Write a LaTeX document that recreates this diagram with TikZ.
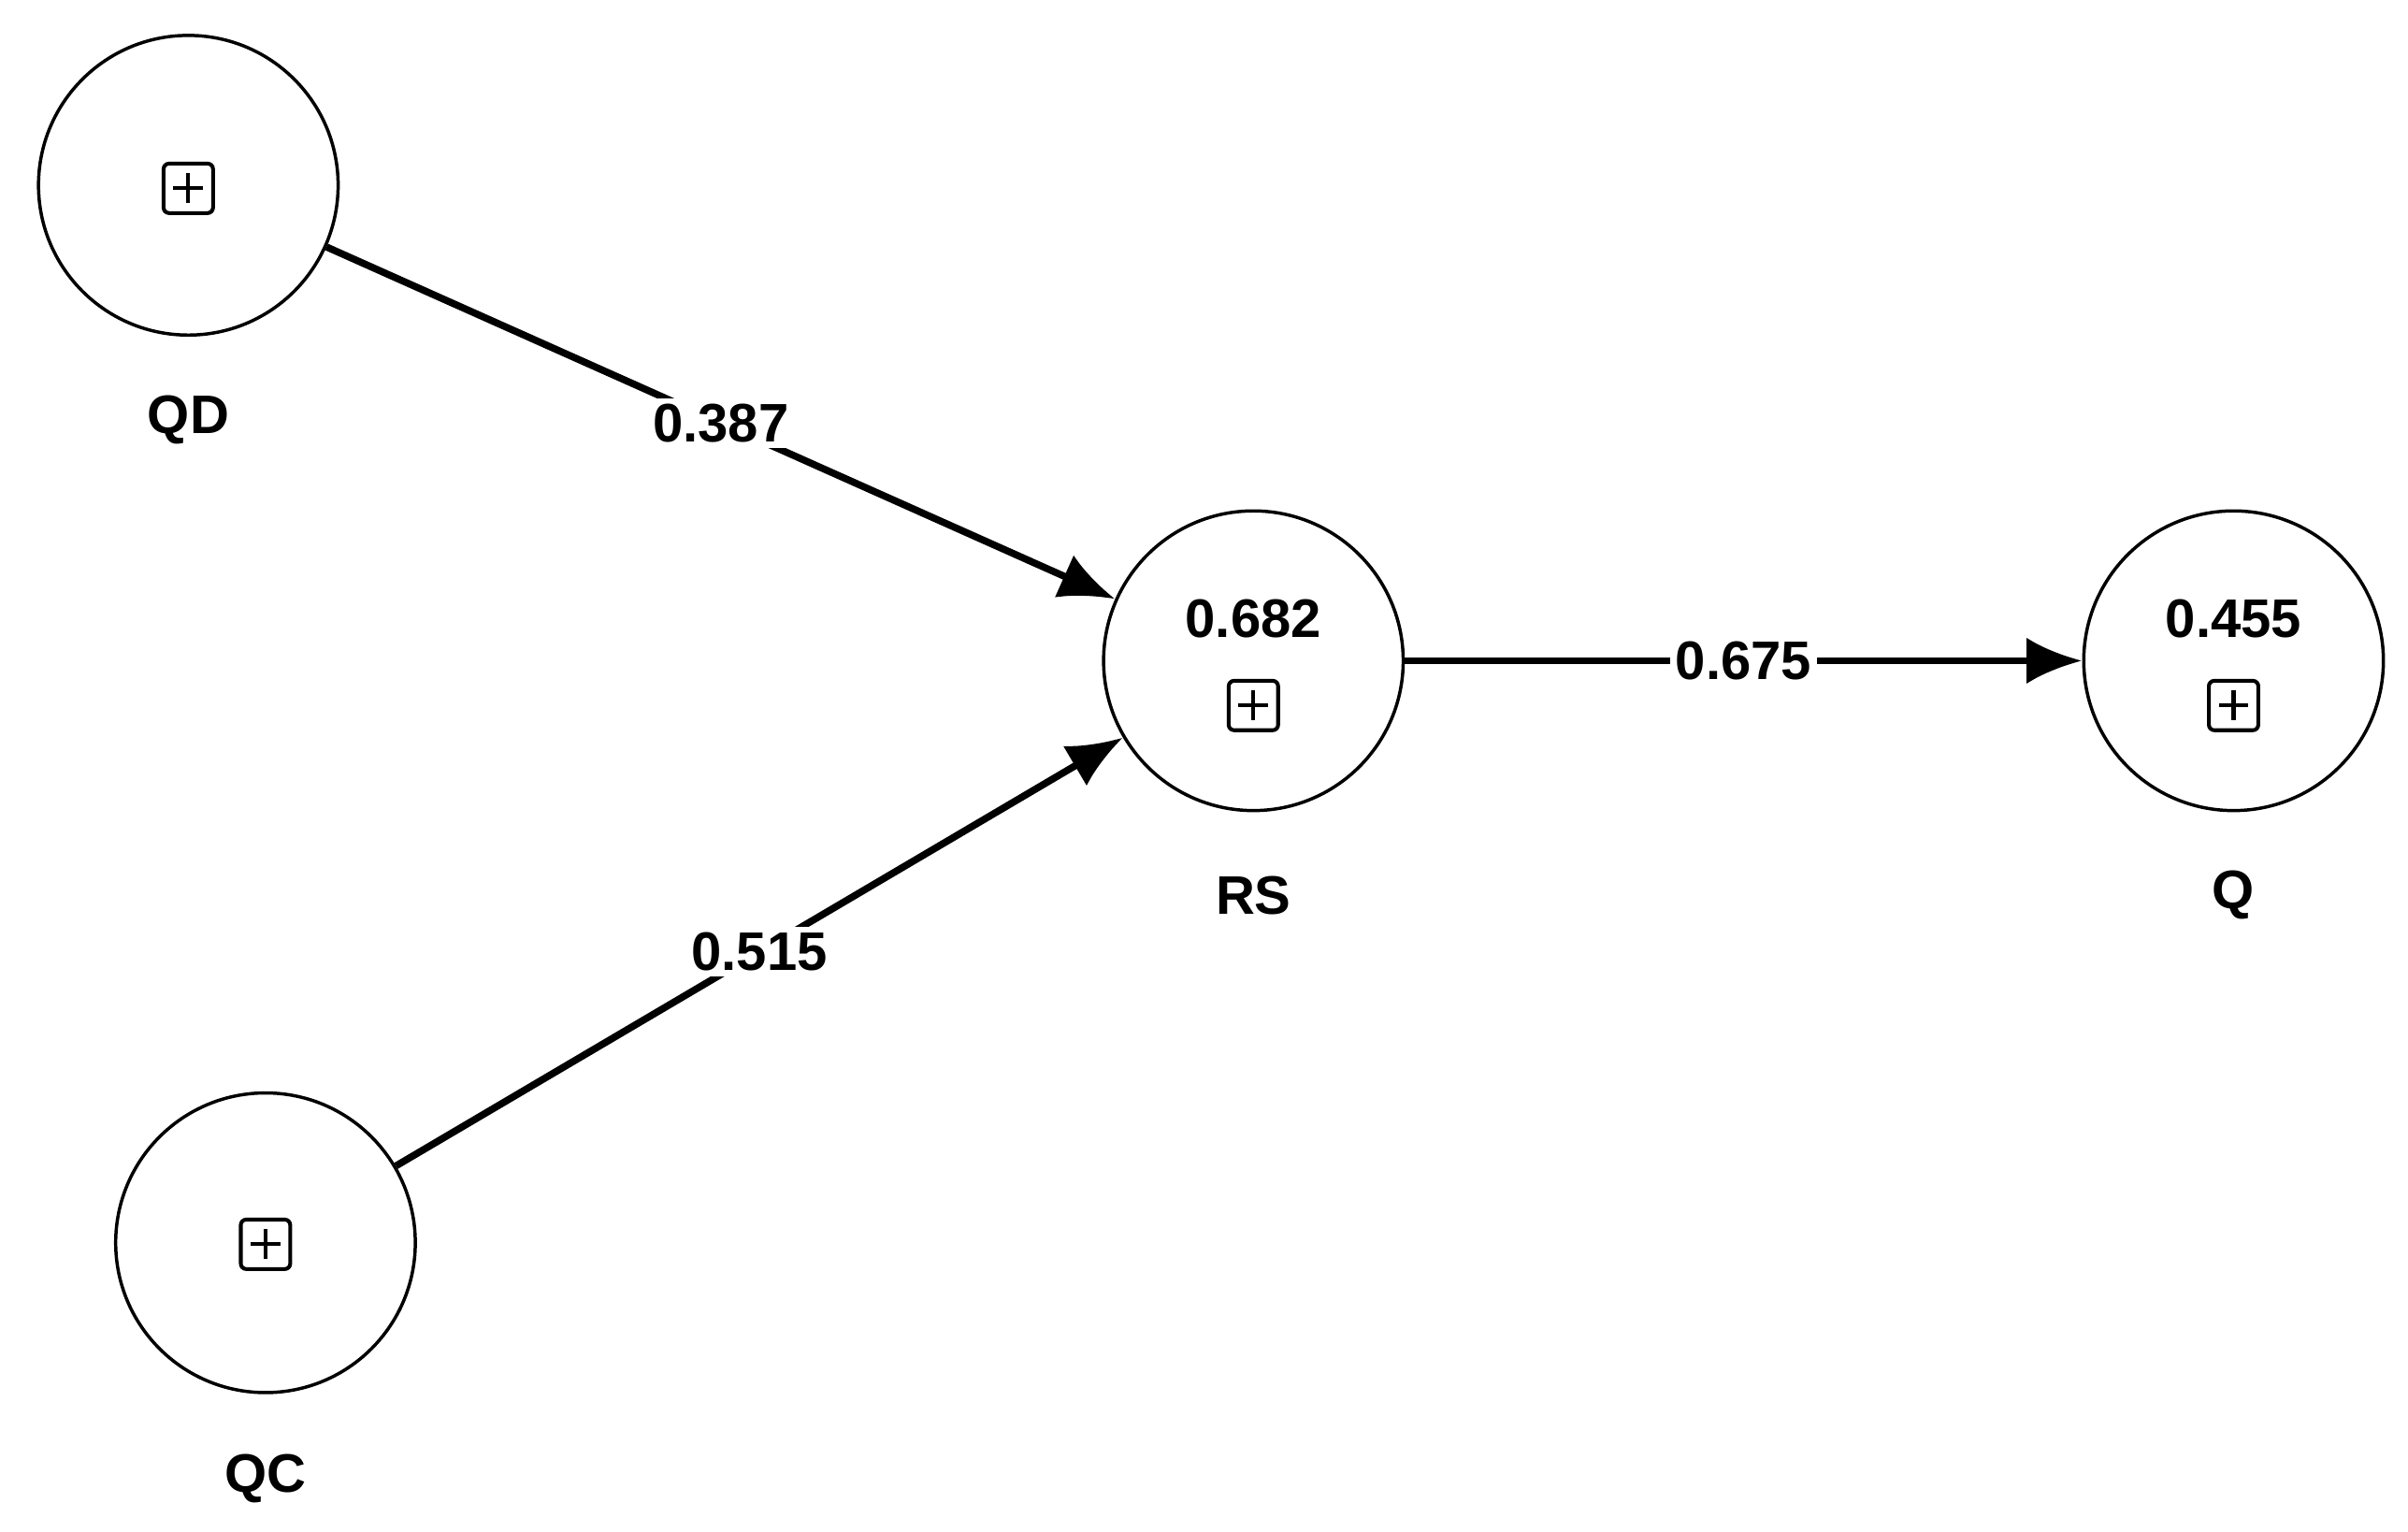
\documentclass[tikz,border=0pt]{standalone}
\usepackage{fontspec}
\setmainfont{Liberation Sans}
\usetikzlibrary{arrows.meta,positioning}
\begin{document}
\begin{tikzpicture}[x=0.01cm,y=-0.01cm,
    latent/.style={circle, draw, line width=0.6pt, minimum size=1.94cm, inner sep=0pt},
    plusbox/.style={rectangle, draw, rounded corners=1pt, line width=0.7pt, minimum size=0.32cm, inner sep=0pt,
        path picture={\draw[line width=0.7pt] ([xshift=1.8pt]path picture bounding box.west) -- ([xshift=-1.8pt]path picture bounding box.east)
            ([yshift=-1.8pt]path picture bounding box.north) -- ([yshift=1.8pt]path picture bounding box.south);}},
    lbl/.style={font=\bfseries\fontsize{10}{12}\selectfont},
    coef/.style={font=\bfseries\fontsize{10}{12}\selectfont, fill=white, inner sep=1pt},
    arrow/.style={-{Latex[length=0.36cm,width=0.3cm]}, line width=1.3pt}
]
    \useasboundingbox (0,0) rectangle (1560,992);
    \node[latent] (qd) at (122,120) {};
    \node[latent] (qc) at (172,805) {};
    \node[latent] (rs) at (812,428) {};
    \node[latent] (q) at (1447,428) {};

    \node[plusbox] (qdp) at (122,122) {};
    \node[plusbox] (qcp) at (172,806) {};
    \node[plusbox] (rsp) at (812,457) {};
    \node[plusbox] (qp) at (1447,457) {};
    \node[lbl] (rsr) at (812,401) {0.682};
    \node[lbl] (qr) at (1447,401) {0.455};

    \node[lbl] (qdl) at (122,272) {QD};
    \node[lbl] (qcl) at (172,958) {QC};
    \node[lbl] (rsl) at (812,580) {RS};
    \node[lbl] (ql) at (1447,580) {Q};

    \draw[arrow] (qd) -- node[coef, pos=0.5] {0.387} (rs);
    \draw[arrow] (qc) -- node[coef, pos=0.5] {0.515} (rs);
    \draw[arrow] (rs) -- node[coef, pos=0.5] {0.675} (q);
\end{tikzpicture}
\end{document}
